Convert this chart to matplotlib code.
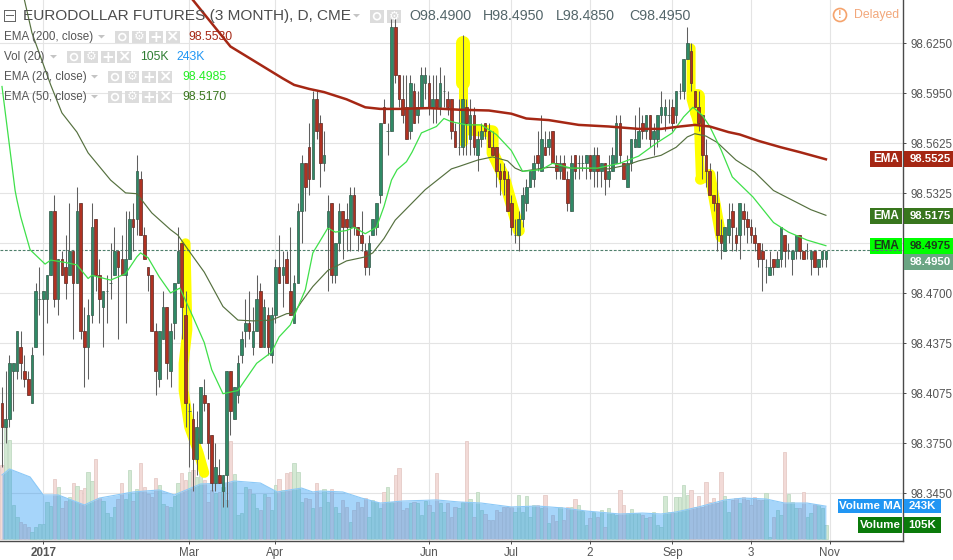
import numpy as np
import matplotlib
matplotlib.use('Agg')
import matplotlib.pyplot as plt
from matplotlib.patches import Rectangle, Polygon, Ellipse

# prices are thousandths above 98.000
OPENS = [
    400, 385, 390, 420, 420, 435, 420, 415, 400, 435,
    465, 465, 465, 480, 520, 465, 490, 485, 480, 495,
    475, 525, 445, 435, 455, 515, 480, 460, 470, 475,
    480, 495, 490, 480, 490, 515, 515, 540, 505, 485,
    480, 445, 415, 440, 460, 420, 450, 475, 500, 455,
    395, 390, 365, 375, 405, 400, 380, 350, 355, 345,
    355, 420, 390, 405, 430, 445, 450, 435, 445, 470,
    435, 455, 430, 455, 485, 480, 490, 470, 450, 475,
    520, 550, 560, 540, 590, 575, 550, 510, 525, 480,
    500, 520, 515, 510, 530, 510, 505, 495, 485, 505,
    510, 530, 585, 570, 570, 635, 605, 590, 585, 570,
    595, 580, 585, 600, 600, 585, 590, 585, 595, 590,
    590, 570, 560, 560, 585, 565, 580, 555, 565, 575,
    570, 560, 560, 545, 545, 540, 525, 505, 505, 515,
    525, 535, 540, 555, 545, 560, 560, 570, 550, 545,
    550, 540, 520, 555, 550, 550, 550, 555, 545, 555,
    545, 550, 540, 545, 550, 575, 550, 535, 550, 560,
    560, 575, 570, 580, 565, 565, 580, 580, 580, 585,
    580, 595, 595, 615, 620, 595, 585, 580, 555, 545,
    530, 525, 505, 495, 505, 520, 505, 505, 520, 515,
    510, 505, 500, 495, 485, 480, 490, 485, 490, 505,
    495, 490, 495, 505, 495, 495, 490, 495, 485, 490,
    490]
CLOSES = [
    385, 390, 425, 425, 445, 425, 415, 405, 430, 470,
    465, 470, 480, 520, 465, 490, 480, 475, 495, 475,
    520, 445, 435, 455, 510, 480, 465, 470, 470, 475,
    495, 485, 480, 490, 515, 510, 545, 505, 490, 480,
    445, 420, 445, 460, 425, 445, 475, 495, 460, 400,
    395, 365, 385, 410, 400, 375, 350, 360, 350, 355,
    420, 395, 410, 425, 440, 450, 445, 445, 465, 435,
    460, 435, 455, 485, 475, 485, 475, 455, 475, 520,
    550, 535, 540, 590, 570, 550, 555, 520, 480, 500,
    520, 510, 510, 530, 510, 505, 500, 485, 500, 515,
    525, 575, 575, 570, 635, 605, 590, 580, 565, 600,
    575, 585, 605, 605, 585, 590, 585, 600, 595, 585,
    570, 560, 560, 590, 575, 580, 560, 565, 570, 570,
    560, 555, 545, 540, 540, 520, 510, 505, 515, 530,
    535, 545, 550, 550, 565, 555, 565, 550, 545, 550,
    540, 525, 550, 545, 550, 550, 555, 545, 555, 545,
    550, 540, 545, 555, 575, 555, 540, 550, 565, 565,
    570, 570, 580, 565, 570, 580, 585, 585, 580, 575,
    595, 595, 615, 625, 600, 585, 575, 555, 545, 530,
    525, 505, 500, 510, 515, 510, 500, 525, 515, 510,
    505, 500, 490, 490, 485, 485, 485, 490, 510, 495,
    495, 495, 505, 495, 490, 495, 495, 485, 490, 495,
    495]
HIGHS = [
    410, 420, 430, 425, 445, 445, 430, 420, 435, 475,
    485, 470, 480, 520, 530, 490, 495, 505, 525, 495,
    535, 525, 460, 465, 525, 515, 490, 470, 480, 500,
    510, 495, 505, 520, 520, 525, 555, 545, 510, 485,
    480, 450, 445, 470, 460, 450, 475, 510, 500, 470,
    400, 400, 395, 410, 415, 400, 380, 375, 365, 355,
    420, 420, 410, 430, 445, 465, 470, 460, 480, 475,
    465, 460, 460, 490, 505, 495, 495, 510, 480, 525,
    555, 550, 575, 595, 595, 580, 570, 530, 525, 500,
    525, 520, 525, 535, 535, 510, 520, 500, 505, 515,
    525, 575, 590, 575, 640, 640, 605, 605, 605, 605,
    600, 595, 610, 610, 605, 605, 605, 610, 605, 595,
    590, 575, 590, 630, 590, 590, 585, 570, 575, 575,
    575, 570, 560, 550, 550, 545, 530, 515, 520, 535,
    540, 545, 555, 570, 580, 570, 570, 570, 555, 555,
    555, 545, 555, 555, 555, 555, 555, 555, 560, 560,
    550, 550, 555, 560, 580, 580, 550, 555, 565, 580,
    585, 580, 580, 580, 575, 580, 595, 590, 590, 590,
    595, 600, 615, 635, 625, 595, 595, 580, 565, 550,
    530, 545, 515, 510, 525, 525, 510, 525, 525, 520,
    515, 510, 500, 500, 490, 495, 490, 495, 510, 505,
    500, 495, 505, 505, 495, 500, 495, 495, 490, 495,
    495]
LOWS = [
    360, 375, 385, 395, 415, 415, 410, 405, 400, 435,
    455, 430, 450, 480, 460, 455, 480, 465, 480, 440,
    475, 440, 410, 415, 450, 470, 450, 435, 450, 465,
    480, 440, 480, 450, 490, 495, 505, 505, 490, 470,
    445, 405, 410, 440, 415, 410, 440, 475, 440, 385,
    360, 345, 355, 375, 395, 365, 345, 345, 350, 335,
    335, 380, 390, 400, 425, 435, 440, 430, 445, 435,
    435, 430, 425, 450, 475, 460, 475, 455, 450, 475,
    500, 520, 530, 540, 565, 535, 545, 470, 475, 475,
    495, 490, 495, 495, 505, 495, 495, 480, 480, 505,
    505, 525, 575, 555, 570, 600, 585, 575, 565, 565,
    575, 575, 585, 590, 580, 575, 575, 580, 585, 580,
    565, 560, 555, 555, 555, 555, 555, 545, 560, 565,
    560, 555, 535, 530, 530, 520, 505, 500, 495, 510,
    520, 535, 535, 545, 545, 555, 555, 550, 540, 540,
    540, 520, 520, 540, 540, 545, 540, 540, 535, 535,
    535, 530, 535, 545, 550, 550, 540, 535, 545, 560,
    560, 565, 565, 560, 555, 560, 575, 570, 575, 570,
    575, 590, 590, 615, 595, 585, 570, 540, 535, 530,
    520, 495, 490, 495, 500, 495, 495, 490, 505, 500,
    500, 495, 485, 470, 475, 480, 480, 485, 485, 485,
    490, 480, 490, 490, 490, 490, 480, 485, 480, 485,
    485]
VOLUMES = [
    548, 832, 734, 252, 165, 128, 111, 91, 49, 91,
    111, 111, 272, 245, 442, 383, 227, 284, 314, 412,
    390, 363, 375, 496, 430, 590, 301, 284, 190, 161,
    235, 294, 412, 294, 511, 282, 370, 561, 383, 333,
    314, 450, 398, 259, 245, 240, 319, 412, 487, 437,
    499, 511, 462, 487, 437, 277, 363, 338, 351, 388,
    289, 726, 482, 178, 190, 383, 368, 333, 227, 215,
    333, 314, 215, 400, 442, 363, 487, 496, 561, 496,
    277, 301, 294, 227, 412, 240, 368, 277, 368, 240,
    190, 289, 240, 128, 215, 272, 240, 301, 165, 289,
    277, 227, 351, 388, 277, 474, 524, 215, 227, 264,
    272, 264, 178, 282, 252, 203, 487, 264, 198, 264,
    165, 235, 227, 277, 726, 294, 165, 351, 215, 183,
    141, 141, 215, 203, 235, 240, 235, 203, 326, 203,
    319, 161, 252, 252, 227, 326, 121, 178, 136, 235,
    141, 235, 235, 294, 252, 210, 104, 153, 203, 165,
    215, 86, 227, 190, 178, 363, 252, 190, 220, 190,
    190, 178, 153, 165, 203, 104, 91, 319, 203, 203,
    309, 309, 398, 326, 363, 240, 319, 235, 420, 277,
    301, 264, 494, 319, 203, 289, 301, 264, 309, 289,
    252, 309, 289, 289, 338, 17, 165, 215, 178, 642,
    333, 277, 227, 227, 351, 165, 190, 259, 252, 227,
    105]

VOL_MA_IDX = [0, 2, 7.5, 11, 15, 22, 26, 35, 42, 46, 53, 60, 62, 69, 73.5, 80, 83, 85,
              91, 96, 101, 107, 116, 122, 128, 136, 143, 150, 156, 165, 171, 176, 180,
              186, 193, 198, 204, 209, 215, 220]
VOL_MA = [474, 518, 459, 326, 326, 252, 303, 348, 363, 326, 407, 414, 429, 414, 348, 377, 348, 355,
          348, 303, 266, 281, 289, 274, 266, 237, 244, 229, 207, 185, 192, 185, 200,
          237, 289, 303, 296, 266, 266, 243]

EMA200_IDX = [51, 61, 68, 75, 78, 82, 86, 92, 97, 101, 106, 114, 122, 130, 136, 140, 146,
              154, 162, 170, 176, 181, 185, 189, 194, 197, 202, 208, 213, 220]
EMA200 = [652, 623, 613, 603, 599, 596.5, 594.5, 590, 585, 584, 584, 584.5, 583.5, 583, 581, 578, 577,
          574, 573, 571.5, 571.5, 573, 574, 573, 569.5, 568, 564, 560, 557, 552.5]

EMA50_IDX = [6, 8, 13, 16, 20, 23, 29, 33, 36, 40, 45, 47, 50, 54, 59, 63, 67, 72, 76, 78, 80, 83,
             87, 92, 97, 99, 102, 105, 109, 113, 120, 122, 127, 131, 135, 137, 139, 146, 153,
             162, 167, 170, 176, 180, 183, 185, 188, 191, 196, 201, 206, 216, 220]
EMA50 = [652, 631.5, 599, 581.5, 569.5, 556.5, 539.5, 531.5, 531, 519, 508.5, 505, 495, 482, 460.5,
         452, 451.5, 452, 456, 456.5, 463.5, 473, 483, 489, 491.5, 494, 503, 514.5, 524, 533.5,
         546.5, 548, 552, 554, 551.5, 547, 545, 547.5, 547, 546.5, 549, 551.5, 555, 560, 566.5,
         568.5, 567, 563, 552, 544.5, 533, 521, 517.5]

EMA20_IDX = [0, 3.5, 4, 5, 7.5, 11.5, 13, 17, 20, 23, 24, 29, 33, 36, 37, 39, 42, 45, 47.5, 51, 54,
             56, 59, 63, 68, 72, 74, 77, 81, 83, 87, 89, 92, 94, 97, 100, 102, 104, 105.5, 108,
             109.5, 112, 116, 118, 120, 124, 128, 132, 136, 139, 144, 147, 152, 159, 165, 170,
             175, 179, 182, 184.5, 187, 189, 192, 195, 200.5, 206, 210, 215, 220]
EMA20 = [598, 533, 527, 516.5, 496, 487, 489.5, 488, 486.5, 478, 480, 477, 481, 491.5, 494, 491, 479,
         469, 472, 454, 438, 421, 406, 408, 425, 432, 441.5, 449, 471, 494, 509.5, 507, 508, 510,
         506, 510, 523, 539.5, 546, 551, 557, 569, 573, 578, 576, 574, 574, 568, 558, 545, 546,
         550, 547, 547, 550, 554.5, 563, 569, 579, 585, 580, 573, 558.5, 541.5, 529, 513, 507,
         502, 498.5]

# hand drawn highlighter strokes: (bar index, thousandths)
STROKE_MAR_IDX = [49, 49.5, 48.5, 48.5, 50, 52.5, 54]
STROKE_MAR = [500, 446, 425, 408, 385, 369, 356.5]
STROKE_JUN_TOP_IDX = [123, 123]
STROKE_JUN_TOP = [625, 600]
STROKE_JUN_IDX = [123, 123]
STROKE_JUN = [600, 563]
STROKE_JUL_IDX = [125, 131, 131, 134, 138]
STROKE_JUL = [571, 570, 556.5, 541.5, 508]
STROKE_SEP_IDX = [184, 184, 186, 186.5]
STROKE_SEP = [622, 590, 573, 540]
STROKE_SEP_LOW_IDX = [186.5, 189, 192]
STROKE_SEP_LOW = [540, 543, 504]
STROKE_SEP_BLOB_IDX = [185.5, 185.5]
STROKE_SEP_BLOB = [592, 582]

X_TICK_IDX = [11, 50, 73, 114, 136, 157, 179, 200, 221]
X_TICK_LABELS = ['2017', 'Mar', 'Apr', 'Jun', 'Jul', '2', 'Sep', '3', 'Nov']
Y_TICKS = [98.625, 98.59375, 98.5625, 98.53125, 98.5, 98.46875, 98.4375, 98.40625, 98.375, 98.34375]
Y_LABELS = ['98.6250', '98.5950', '98.5625', '98.5325', '', '98.4700', '98.4375', '98.4075', '98.3750', '98.3450']
LAST_PRICE = 98.4955

WIDTH, HEIGHT = 954, 560
AXIS_X, AXIS_Y = 903.5, 541
BAR_PX, BAR_X0 = 3.745, 2.0
PX_PER_PRICE = 1600.0
Y_625 = 43.3
VOL_K_PER_PX = 7.4

UP_COLOR, UP_EDGE = '#2f8a66', '#3a5f50'
DOWN_COLOR, DOWN_EDGE = '#b03222', '#64302a'
WICK = '#5f5f5f'
GRID = '#e4e4e4'
TEXT = '#555555'
RED_EMA = '#a52714'
DARK_GREEN_EMA = '#38761d'
LIGHT_GREEN_EMA = '#00ff00'
FONT = 'Liberation Sans'


def to_price(values):
    return 98 + np.asarray(values, dtype=float) / 1000


def fx(x):
    return x / WIDTH


def fy(y):
    return 1 - y / HEIGHT


def px_text(fig, x, y, s, size, color, **kw):
    kw.setdefault('va', 'center')
    kw.setdefault('family', FONT)
    fig.text(fx(x), fy(y), s, fontsize=size * 0.72, color=color, **kw)


def px_rect(fig, x0, y0, x1, y1, color):
    fig.add_artist(Rectangle((fx(x0), fy(y1)), fx(x1) - fx(x0), fy(y0) - fy(y1),
                             transform=fig.transFigure, facecolor=color, edgecolor='none'))


def px_circle(fig, x, y, r, color, lw):
    fig.add_artist(Ellipse((fx(x), fy(y)), 2 * r / WIDTH, 2 * r / HEIGHT, transform=fig.transFigure,
                           facecolor='none', edgecolor=color, linewidth=lw))


def draw_icons(fig, x, y0, icons):
    # grey legend buttons
    for n, icon in enumerate(icons):
        x0 = x + n * 16.8
        px_rect(fig, x0, y0, x0 + 14, y0 + 12.6, '#dcdcdc')
        cx = x0 + 7
        cy = y0 + 6.3
        if icon == 'eye':
            px_circle(fig, cx, cy, 3.4, 'white', 1.2)
        elif icon == 'gear':
            px_text(fig, cx, cy, '\u2699', 12, 'white', ha='center', family='DejaVu Sans')
        elif icon == 'plus':
            px_text(fig, cx, cy, '+', 15, 'white', ha='center', fontweight='bold', family='DejaVu Sans')
        else:
            px_text(fig, cx, cy, '\u00d7', 16, 'white', ha='center', fontweight='bold', family='DejaVu Sans')


def draw_arrow(fig, x, y):
    fig.add_artist(Polygon([(fx(x), fy(y)), (fx(x + 7), fy(y)), (fx(x + 3.5), fy(y + 3.5))],
                           transform=fig.transFigure, facecolor='#c4c4c4', edgecolor='none'))


def plot_volume(ax):
    idx = np.arange(len(VOLUMES))
    is_up = np.array(CLOSES) >= np.array(OPENS)
    colors = ['#d3e8d3' if u else '#f2dad7' for u in is_up]
    edges = ['#b9d6bc' if u else '#e2c4c0' for u in is_up]
    ax.bar(idx, VOLUMES, width=0.88, color=colors, edgecolor=edges, linewidth=0.5)
    ax.fill_between(VOL_MA_IDX, 0, VOL_MA, color='#2196f3', alpha=0.4, linewidth=0)
    ax.plot(VOL_MA_IDX, VOL_MA, color='#8cc9f7', linewidth=0.8)


def plot_strokes(ax):
    strokes = [
        (STROKE_MAR_IDX, STROKE_MAR, 10),
        (STROKE_JUN_TOP_IDX, STROKE_JUN_TOP, 14),
        (STROKE_JUN_IDX, STROKE_JUN, 9),
        (STROKE_JUL_IDX, STROKE_JUL, 12),
        (STROKE_SEP_IDX, STROKE_SEP, 9),
        (STROKE_SEP_BLOB_IDX, STROKE_SEP_BLOB, 15),
        (STROKE_SEP_LOW_IDX, STROKE_SEP_LOW, 11),
    ]
    for xs, ys, w in strokes:
        ax.plot(xs, to_price(ys), color='#ffff00', linewidth=w * 0.72,
                solid_capstyle='round', solid_joinstyle='round', zorder=1)


def plot_candles(ax):
    idx = np.arange(len(OPENS))
    opens, closes = to_price(OPENS), to_price(CLOSES)
    highs, lows = to_price(HIGHS), to_price(LOWS)
    is_up = closes >= opens
    ax.vlines(idx, lows, highs, color=WICK, linewidth=0.75, zorder=2)
    bottoms = np.minimum(opens, closes)
    heights = np.abs(closes - opens)
    ax.bar(idx[is_up], heights[is_up], bottom=bottoms[is_up], width=0.7,
           color=UP_COLOR, edgecolor=UP_EDGE, linewidth=0.55, zorder=3)
    ax.bar(idx[~is_up], heights[~is_up], bottom=bottoms[~is_up], width=0.7,
           color=DOWN_COLOR, edgecolor=DOWN_EDGE, linewidth=0.55, zorder=3)


def plot_emas(ax):
    ax.plot(EMA50_IDX, to_price(EMA50), color='#55703f', linewidth=0.85, zorder=4)
    ax.plot(EMA20_IDX, to_price(EMA20), color='#3fe04a', linewidth=0.9, zorder=4)
    ax.plot(EMA200_IDX, to_price(EMA200), color=RED_EMA, linewidth=1.8, zorder=4)


def draw_legend(fig):
    px_rect(fig, 4, 10, 16.5, 21.5, '#666666')
    px_rect(fig, 5, 11, 15.5, 20.5, 'white')
    px_rect(fig, 6.5, 15.3, 14, 16.3, '#666666')
    px_text(fig, 23, 16, 'EURODOLLAR FUTURES (3 MONTH), D, CME', 15.4, '#4d4d4d')
    draw_arrow(fig, 353, 14)
    draw_icons(fig, 370, 10, ['eye', 'gear'])
    for x, s in zip([409, 483, 556, 629], ['O98.4900', 'H98.4950', 'L98.4850', 'C98.4950']):
        px_text(fig, x, 16.5, s, 14.3, '#54666a')

    px_text(fig, 4, 37, 'EMA (200, close)', 11.6, TEXT)
    draw_arrow(fig, 98, 35)
    draw_icons(fig, 115.3, 30.7, ['eye', 'gear', 'plus', 'x'])
    px_text(fig, 188, 37, '98.5530', 12.2, RED_EMA)

    px_text(fig, 4, 57, 'Vol (20)', 11.6, TEXT)
    draw_arrow(fig, 50, 55)
    draw_icons(fig, 67, 50.7, ['eye', 'gear', 'plus', 'x'])
    px_text(fig, 140, 57, '105K', 12.2, '#2e7d32')
    px_text(fig, 176, 57, '243K', 12.2, '#2196f3')

    px_text(fig, 4, 77, 'EMA (20, close)', 11.6, TEXT)
    draw_arrow(fig, 91, 75)
    draw_icons(fig, 108, 70.7, ['eye', 'gear', 'plus', 'x'])
    px_text(fig, 182, 77, '98.4985', 12.2, '#22ee22')

    px_text(fig, 4, 97, 'EMA (50, close)', 11.6, TEXT)
    draw_arrow(fig, 91, 95)
    draw_icons(fig, 108, 90.7, ['eye', 'gear', 'plus', 'x'])
    px_text(fig, 182, 97, '98.5170', 12.2, DARK_GREEN_EMA)

    # delayed badge
    px_circle(fig, 840, 15, 6.5, '#f5a36c', 1.2)
    px_text(fig, 840, 15, '!', 11, '#f5a36c', ha='center', fontweight='bold')
    px_text(fig, 854, 15, 'Delayed', 12.2, '#f2a77a')


def draw_tags(fig):
    tags = [
        (151, 167, 870, 'EMA', '98.5525', RED_EMA, 'white'),
        (208, 224, 870, 'EMA', '98.5175', DARK_GREEN_EMA, 'white'),
        (238, 254, 870, 'EMA', '98.4975', LIGHT_GREEN_EMA, '#1a3a1a'),
    ]
    for y0, y1, x0, name, value, color, text_color in tags:
        px_rect(fig, x0, y0, 902.5, y1, color)
        px_rect(fig, 904.5, y0, 954, y1, color)
        px_text(fig, 886.5, (y0 + y1) / 2, name, 11.6, text_color, ha='center', fontweight='bold')
        px_text(fig, 910, (y0 + y1) / 2, value, 11.4, text_color, fontweight='bold')
    px_rect(fig, 904.5, 254, 954, 270, '#6ba583')
    px_text(fig, 910, 262, '98.4950', 11.4, 'white', fontweight='bold')

    px_rect(fig, 838, 499, 902.5, 513, '#2196f3')
    px_rect(fig, 904.5, 499, 941, 513, '#2196f3')
    px_text(fig, 870, 506, 'Volume MA', 11.5, 'white', ha='center', fontweight='bold')
    px_text(fig, 922.5, 506, '243K', 11.5, 'white', ha='center', fontweight='bold')
    px_rect(fig, 858, 517, 902.5, 533, '#0b7a0b')
    px_rect(fig, 904.5, 517, 941, 533, '#0b7a0b')
    px_text(fig, 880, 525, 'Volume', 11.5, 'white', ha='center', fontweight='bold')
    px_text(fig, 922.5, 525, '105K', 11.5, 'white', ha='center', fontweight='bold')


def main():
    plt.rcParams['font.family'] = FONT
    fig = plt.figure(figsize=(WIDTH / 100, HEIGHT / 100), dpi=100, facecolor='white')
    rect = [0, 1 - AXIS_Y / HEIGHT, AXIS_X / WIDTH, AXIS_Y / HEIGHT]

    xlim = ((0 - BAR_X0) / BAR_PX, (AXIS_X - BAR_X0) / BAR_PX)
    ylim = (98.625 - (AXIS_Y - Y_625) / PX_PER_PRICE, 98.625 + Y_625 / PX_PER_PRICE)

    ax = fig.add_axes(rect, zorder=0)
    ax.set_xlim(xlim)
    ax.set_ylim(ylim)
    ax.yaxis.tick_right()
    ax.set_xticks(X_TICK_IDX, X_TICK_LABELS)
    ax.set_yticks(Y_TICKS, Y_LABELS)
    ax.grid(True, color=GRID, linewidth=0.8)
    ax.set_axisbelow(True)
    ax.tick_params(axis='both', length=2.5, width=0.7, color='#4a4a4a', labelcolor=TEXT, labelsize=8.4)
    ax.tick_params(axis='y', pad=2.5)
    ax.tick_params(axis='x', pad=1.5)
    ax.get_xticklabels()[0].set_fontweight('bold')
    for side in ['top', 'left']:
        ax.spines[side].set_visible(False)
    for side in ['bottom', 'right']:
        ax.spines[side].set_color('#4a4a4a')
        ax.spines[side].set_linewidth(1.0)

    ax_vol = fig.add_axes(rect, zorder=1)
    ax_vol.patch.set_alpha(0)
    ax_vol.axis('off')
    ax_vol.set_xlim(xlim)
    ax_vol.set_ylim(-2 * VOL_K_PER_PX, (AXIS_Y - 2) * VOL_K_PER_PX)
    plot_volume(ax_vol)

    ax_top = fig.add_axes(rect, zorder=2)
    ax_top.patch.set_alpha(0)
    ax_top.axis('off')
    ax_top.set_xlim(xlim)
    ax_top.set_ylim(ylim)
    plot_strokes(ax_top)
    ax_top.axhline(LAST_PRICE, color='#4f7f6c', linewidth=0.8, linestyle=(0, (2.5, 1.5)), zorder=1.5)
    plot_candles(ax_top)
    plot_emas(ax_top)

    draw_legend(fig)
    draw_tags(fig)

    fig.savefig('out.png', dpi=100)
    plt.close(fig)


if __name__ == '__main__':
    main()
